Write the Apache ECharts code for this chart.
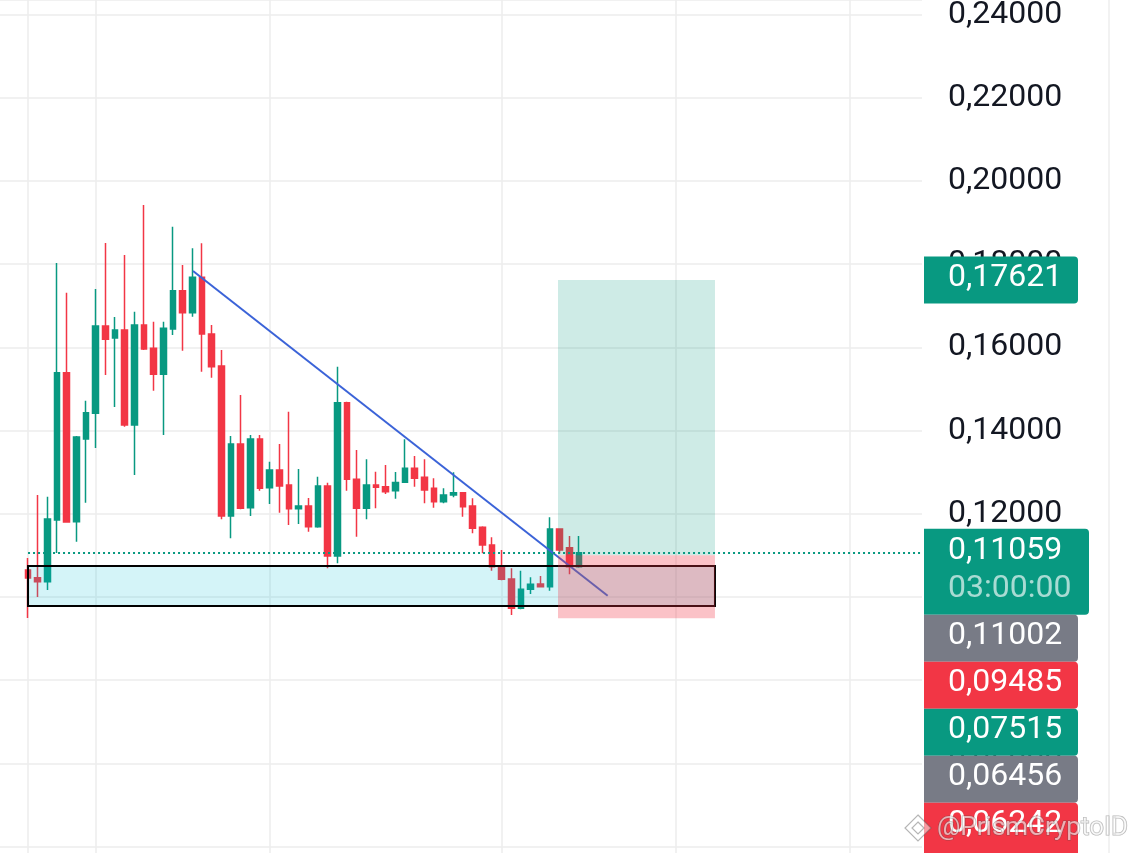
<!DOCTYPE html>
<html><head><meta charset="utf-8">
<script src="https://cdn.jsdelivr.net/npm/echarts@6/dist/echarts.min.js"></script>
<style>html,body{margin:0;padding:0;background:#fff}#c{width:1137px;height:853px}</style>
</head><body><div id="c"></div>
<script>
// ---- data ----
const opens  = [0.10647,0.10462,0.10366,0.11849,0.15390,0.11808,0.13796,0.14414,0.16512,0.16224,
                0.16416,0.14132,0.16536,0.15976,0.15351,0.16440,0.17361,0.16832,0.17683,0.16320,
                0.15551,0.11945,0.13676,0.12144,0.13796,0.12625,0.13051,0.12690,0.12120,0.12185,
                0.11688,0.12666,0.10983,0.14668,0.12827,0.12130,0.12690,0.12649,0.12553,0.12755,
                0.13092,0.12875,0.12611,0.12289,0.12450,0.12505,0.12185,0.11673,0.11248,0.10750,
                0.10431,0.09726,0.10183,0.10310,0.10245,0.11633,0.11183,0.10726];
const closes = [0.10454,0.10366,0.11873,0.15390,0.11801,0.13844,0.14428,0.16512,0.16192,0.16416,
                0.14132,0.16536,0.15959,0.15351,0.16457,0.17361,0.16832,0.17683,0.16320,0.15534,
                0.11945,0.13676,0.12130,0.13796,0.12611,0.13051,0.12666,0.12120,0.12185,0.11688,
                0.12666,0.10983,0.14668,0.12827,0.12130,0.12690,0.12635,0.12529,0.12750,0.13092,
                0.12855,0.12570,0.12289,0.12450,0.12505,0.12168,0.11649,0.11248,0.10726,0.10423,
                0.09726,0.10183,0.10303,0.10245,0.11633,0.11128,0.10726,0.11059];
const lows   = [0.09493,0.09998,0.10166,0.11056,0.11780,0.11327,0.12265,0.13580,0.15334,0.14565,
                0.14092,0.12931,0.15935,0.14957,0.13892,0.16296,0.15918,0.16736,0.15414,0.15269,
                0.11866,0.11409,0.12106,0.11945,0.12553,0.12233,0.12025,0.11729,0.11753,0.11568,
                0.11664,0.10688,0.10808,0.12553,0.11447,0.11866,0.12130,0.12474,0.12361,0.12740,
                0.12649,0.12250,0.12144,0.12250,0.12394,0.11928,0.11529,0.11048,0.10630,0.10400,
                0.09565,0.09702,0.10070,0.10230,0.10149,0.11048,0.10543,0.10700];
const highs  = [0.10935,0.12450,0.12409,0.18027,0.17313,0.13870,0.14717,0.17402,0.18507,0.16729,
                0.18219,0.16856,0.19421,0.16616,0.16616,0.18899,0.17978,0.18380,0.18500,0.16536,
                0.15935,0.13868,0.14854,0.13892,0.13892,0.13250,0.13676,0.14452,0.13075,0.12378,
                0.12890,0.12745,0.15534,0.14690,0.13532,0.13308,0.13010,0.13171,0.13003,0.13789,
                0.13387,0.13308,0.12851,0.12611,0.12996,0.12520,0.12370,0.11700,0.11433,0.11128,
                0.10688,0.10630,0.10471,0.10503,0.11914,0.11650,0.11464,0.11464];

const yTickStep = 0.02;
const yMin = 0.02, yMax = 0.24349;
const xMin = -2.9, xMax = 92.49;
const timeMarks = [0, 7, 25, 49, 67, 85];

const trendStart = [17.07, 0.17834];
const trendEnd   = [59.97, 0.10029];
const zoneX = [0, 71.07];
const zoneY = [0.09781, 0.10743];
const positionX = [54.83, 71.07];
const entryPrice = 0.11002, targetPrice = 0.17621, stopPrice = 0.09485;
const lastPrice = 0.11059;
const countdown = '03:00:00';

const tagPrices = [0.17621, 0.11059, 0.11002, 0.09485, 0.07515, 0.06456, 0.06242];
const tagKinds  = ['up', 'last', 'gray', 'down', 'up', 'gray', 'down'];
const watermark = '@PrismCryptoID';

// ---- styles ----
const UP = '#089981', DOWN = '#f23645', GRAY = '#787b86';
const GRID = '#ededed';
const FONT = 'Roboto, "Noto Sans", sans-serif';
const fmt = v => v.toFixed(5).replace('.', ',');

const candles = opens.map((o, i) => [i, o, closes[i], lows[i], highs[i]]);

const chart = echarts.init(document.getElementById('c'), null, {renderer: 'canvas'});
chart.setOption({
  animation: false,
  backgroundColor: '#ffffff',
  grid: {left: 0, right: 215, top: 0, bottom: 853 - 929.7, containLabel: false, outerBoundsMode: 'none'},
  xAxis: {
    type: 'value', min: xMin, max: xMax,
    axisLine: {show: false}, axisLabel: {show: false},
    axisTick: {show: false, customValues: timeMarks},
    splitLine: {show: true, lineStyle: {color: GRID, width: 1.5}}
  },
  yAxis: {
    type: 'value', position: 'right', min: yMin, max: yMax, interval: yTickStep,
    axisLine: {show: false}, axisTick: {show: false},
    splitLine: {show: true, lineStyle: {color: GRID, width: 1.5}},
    axisLabel: {
      fontSize: 32, fontFamily: FONT, color: '#131722', margin: 26,
      formatter: v => fmt(v)
    }
  },
  series: [
    {
      type: 'candlestick', z: 2,
      data: candles,
      encode: {x: 0, y: [1, 2, 3, 4]},
      barWidth: 6.4,
      itemStyle: {color: UP, color0: DOWN, borderColor: UP, borderColor0: DOWN, borderWidth: 1.5},
      markLine: {
        z: 5, silent: true, symbol: ['none', 'none'], animation: false,
        label: {show: false},
        lineStyle: {color: '#3b63d8', width: 2, type: 'solid'},
        emphasis: {disabled: true},
        data: [[{coord: trendStart}, {coord: trendEnd}]]
      },
      markArea: {
        z: 6, silent: true, animation: false,
        label: {show: false},
        emphasis: {disabled: true},
        data: [
          [{xAxis: zoneX[0], yAxis: zoneY[1], itemStyle: {color: 'rgba(0,188,212,0.17)', borderColor: '#000', borderWidth: 2}},
           {xAxis: zoneX[1], yAxis: zoneY[0]}],
          [{xAxis: positionX[0], yAxis: targetPrice, itemStyle: {color: 'rgba(8,153,129,0.2)', borderWidth: 0}},
           {xAxis: positionX[1], yAxis: entryPrice}],
          [{xAxis: positionX[0], yAxis: entryPrice, itemStyle: {color: 'rgba(242,54,69,0.3)', borderWidth: 0}},
           {xAxis: positionX[1], yAxis: stopPrice}]
        ]
      }
    },
    {
      type: 'line', data: [], z: 7,
      markLine: {
        z: 7, silent: true, symbol: ['none', 'none'], animation: false,
        label: {show: false},
        emphasis: {disabled: true},
        lineStyle: {color: UP, width: 2, type: [2, 3]},
        data: [[{coord: [0, lastPrice]}, {coord: [xMax, lastPrice]}]]
      }
    }
  ]
});

// ---- price tags (stacked like the price scale does) ----
const tagColor = {up: UP, last: UP, gray: GRAY, down: DOWN};
const graphics = [];
let prevBottom = -Infinity;
tagPrices.forEach((p, i) => {
  const kind = tagKinds[i];
  const py = chart.convertToPixel({yAxisIndex: 0}, p);
  const h = kind === 'last' ? 86 : 47;
  const anchor = kind === 'last' ? 24 : h / 2;
  const top = Math.max(py - anchor, prevBottom);
  prevBottom = top + h;
  const w = kind === 'last' ? 165 : 154;
  const isLastTag = i === tagPrices.length - 1;
  const rectH = isLastTag ? Math.max(h, 880 - top) : h;
  graphics.push({type: 'rect', z: 100, shape: {x: 924, y: top, width: w, height: rectH, r: isLastTag ? [0, 4, 0, 0] : [0, 4, 4, 0]},
                 style: {fill: tagColor[kind]}});
  graphics.push({type: 'text', z: 101, x: 948, y: top + anchor - 2,
                 style: {text: fmt(p), fill: '#ffffff', fontSize: 32, fontFamily: FONT, verticalAlign: 'middle', align: 'left'}});
  if (kind === 'last') {
    graphics.push({type: 'text', z: 101, x: 948, y: top + anchor + 36,
                   style: {text: countdown, fill: 'rgba(255,255,255,0.65)', fontSize: 32, fontFamily: FONT, verticalAlign: 'middle', align: 'left'}});
  }
});
// right border of price scale
graphics.push({type: 'line', z: 50, shape: {x1: 1109, y1: 0, x2: 1109, y2: 853}, style: {stroke: '#eeeeee', lineWidth: 1.5}});
// watermark
graphics.push({type: 'polygon', z: 110, shape: {points: [[918, 815], [931, 828], [918, 841], [905, 828]]},
               style: {fill: 'rgba(255,255,255,0.5)', stroke: 'rgba(90,90,90,0.45)', lineWidth: 1.2}});
graphics.push({type: 'polygon', z: 111, shape: {points: [[918, 822], [924, 828], [918, 834], [912, 828]]},
               style: {fill: 'rgba(255,255,255,0.6)', stroke: 'rgba(90,90,90,0.45)', lineWidth: 1.2}});
graphics.push({type: 'text', z: 110, x: 937, y: 828,
               style: {text: watermark, fontSize: 26, fontFamily: FONT, fill: 'rgba(255,255,255,0.6)',
                       stroke: 'rgba(70,70,70,0.4)', lineWidth: 1.2, verticalAlign: 'middle', align: 'left'}});
chart.setOption({graphic: graphics});
</script></body></html>
